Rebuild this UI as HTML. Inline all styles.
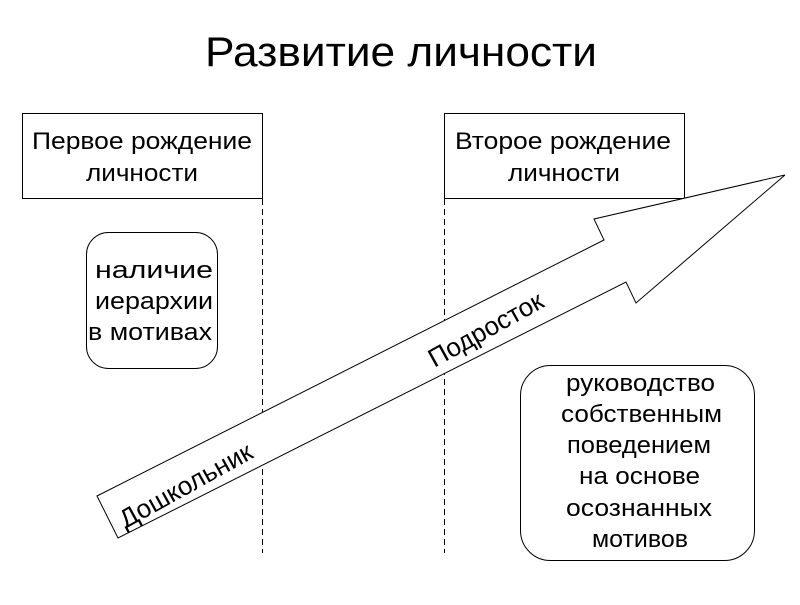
<!DOCTYPE html>
<html><head><meta charset="utf-8"><style>
body{margin:0;width:800px;height:600px;background:#fff;overflow:hidden;font-family:"Liberation Sans",sans-serif;}
</style></head><body>
<svg width="800" height="600" xmlns="http://www.w3.org/2000/svg" font-family="Liberation Sans, sans-serif">
<text x="205" y="66" font-size="42" textLength="392" lengthAdjust="spacingAndGlyphs">Развитие личности</text>
<rect x="22.5" y="113.5" width="240" height="85" fill="none" stroke="#000"/>
<text x="32" y="149" font-size="24" textLength="220" lengthAdjust="spacingAndGlyphs">Первое рождение</text>
<text x="86" y="181" font-size="24" textLength="112" lengthAdjust="spacingAndGlyphs">личности</text>
<rect x="444.5" y="113.5" width="240" height="85" fill="none" stroke="#000"/>
<text x="455" y="149" font-size="24" textLength="216" lengthAdjust="spacingAndGlyphs">Второе рождение</text>
<text x="508" y="181" font-size="24" textLength="112" lengthAdjust="spacingAndGlyphs">личности</text>
<line x1="262.5" y1="199" x2="262.5" y2="553" stroke="#000" stroke-dasharray="6,4"/>
<line x1="444.5" y1="199" x2="444.5" y2="553" stroke="#000" stroke-dasharray="6,4"/>
<polygon points="97,496 604,240 594,219 785,175 636,303 626,282 118,538" fill="#fff" stroke="#000"/>
<rect x="86.5" y="232.5" width="131" height="136" rx="22" fill="none" stroke="#000"/>
<text x="95" y="278" font-size="24" textLength="118" lengthAdjust="spacingAndGlyphs">наличие</text>
<text x="95" y="309" font-size="24" textLength="118" lengthAdjust="spacingAndGlyphs">иерархии</text>
<text x="88" y="340" font-size="24" textLength="124" lengthAdjust="spacingAndGlyphs">в мотивах</text>
<rect x="520.5" y="365.5" width="234" height="195" rx="30" fill="none" stroke="#000"/>
<text x="566" y="391" font-size="24" textLength="149" lengthAdjust="spacingAndGlyphs">руководство</text>
<text x="561" y="422" font-size="24" textLength="161" lengthAdjust="spacingAndGlyphs">собственным</text>
<text x="567" y="453" font-size="24" textLength="144" lengthAdjust="spacingAndGlyphs">поведением</text>
<text x="579" y="484" font-size="24" textLength="121" lengthAdjust="spacingAndGlyphs">на основе</text>
<text x="566" y="516" font-size="24" textLength="146" lengthAdjust="spacingAndGlyphs">осознанных</text>
<text x="592" y="547" font-size="24" textLength="96" lengthAdjust="spacingAndGlyphs">мотивов</text>
<text transform="translate(190,493) rotate(-29)" font-size="26" text-anchor="middle">Дошкольник</text>
<text transform="translate(490,337) rotate(-29)" font-size="26" text-anchor="middle">Подросток</text>
</svg>
</body></html>
